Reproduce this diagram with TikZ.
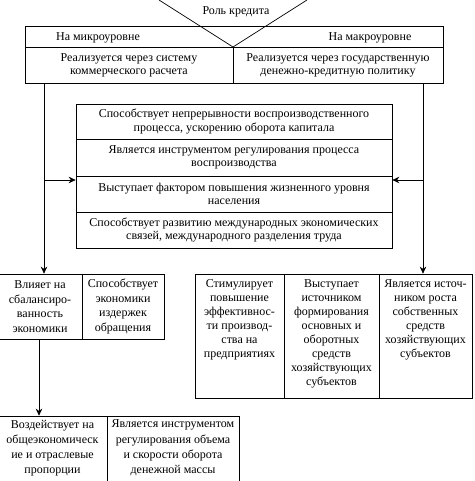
\documentclass[tikz,border=0pt]{standalone}
\usepackage{fontspec}
\setmainfont{Liberation Serif}
\usetikzlibrary{arrows.meta}
\begin{document}
\begin{tikzpicture}[x=1pt,y=-1pt,
  cell/.style={draw,line width=0.7pt,inner sep=0pt,align=center,
    font=\fontsize{12}{14}\selectfont},
  txt/.style={inner sep=0pt,align=center,font=\fontsize{12}{14}\selectfont},
  conn/.style={line width=0.7pt},
  arr/.style={line width=0.7pt,-{Stealth[length=7pt,width=6.5pt]}}]
\useasboundingbox (0,0) rectangle (474,481);
% top V and title
\coordinate (vl) at (159,0);
\coordinate (vr) at (307,0);
\node[txt] (title) at (236,12) {Роль кредита};
% top box
\node[cell,minimum width=418pt,minimum height=21pt] (toprow) at (234,36.5) {};
\node[txt] (micro) at (98,37.5) {На микроуровне};
\node[txt] (macro) at (370,37.5) {На макроуровне};
\coordinate (vb) at (233,47);
\draw[conn] (vl) -- (vb) -- (vr);
\node[cell,minimum width=208pt,minimum height=36pt,
  font=\fontsize{12}{13}\selectfont] (r2l) at (129,65)
  {Реализуется через систему\\коммерческого расчета};
\node[cell,minimum width=210pt,minimum height=36pt,
  font=\fontsize{12}{13}\selectfont] (r2r) at (338,65)
  {Реализуется через государственную\\денежно-кредитную политику};
% middle stack
\node[cell,minimum width=316pt,minimum height=35pt,
  font=\fontsize{12}{13.5}\selectfont] (m1) at (234,121.5)
  {Способствует непрерывности воспроизводственного\\процесса, ускорению оборота капитала};
\node[cell,minimum width=316pt,minimum height=37pt,
  font=\fontsize{12}{13.5}\selectfont] (m2) at (234,157.5)
  {Является инструментом регулирования процесса\\воспроизводства};
\node[cell,minimum width=316pt,minimum height=36pt,
  font=\fontsize{12}{13.5}\selectfont] (m3) at (234,194)
  {Выступает фактором повышения жизненного уровня\\населения};
\node[cell,minimum width=316pt,minimum height=36pt,
  font=\fontsize{12}{13.5}\selectfont] (m4) at (234,230)
  {Способствует развитию международных экономических\\связей, международного разделения труда};
% left box
\node[cell,minimum width=84pt,minimum height=65pt,
  font=\fontsize{12}{14.7}\selectfont] (a1) at (40,306.5)
  {Влияет на\\сбалансиро-\\ванность\\экономики};
\node[cell,minimum width=82pt,minimum height=65pt,
  font=\fontsize{12}{14.7}\selectfont] (a2) at (123,306.5)
  {Способствует\\экономики\\издержек\\обращения};
% bottom box
\node[cell,minimum width=109pt,minimum height=76pt] (b1) at (52.5,454) {};
\node[cell,minimum width=132pt,minimum height=76pt] (b2) at (173,454) {};
\node[txt,anchor=north,font=\fontsize{12}{15.3}\selectfont] (b1t) at ([yshift=-4pt]b1.north)
  {Воздействует на\\общеэкономическ\\ие и отраслевые\\пропорции};
\node[txt,anchor=north,font=\fontsize{12}{15.3}\selectfont] (b2t) at ([yshift=-4pt]b2.north)
  {Является инструментом\\регулирования объема\\и скорости оборота\\денежной массы};
% right box
\node[cell,minimum width=89pt,minimum height=124pt] (c1) at (239.5,336) {};
\node[cell,minimum width=95pt,minimum height=124pt] (c2) at (331.5,336) {};
\node[cell,minimum width=93pt,minimum height=124pt] (c3) at (425.5,336) {};
\node[txt,anchor=north] (c1t) at ([yshift=-6pt]c1.north)
  {Стимулирует\\повышение\\эффективнос-\\ти производ-\\ства на\\предприятиях};
\node[txt,anchor=north] (c2t) at ([yshift=-6pt]c2.north)
  {Выступает\\источником\\формирования\\основных и\\оборотных\\средств\\хозяйствующих\\субъектов};
\node[txt,anchor=north] (c3t) at ([yshift=-6pt]c3.north)
  {Является источ-\\ником роста\\собственных\\средств\\хозяйствующих\\субъектов};
% connectors
\coordinate (ls) at (44,83);
\coordinate (lm) at (44,180);
\coordinate (rs) at (423,83);
\coordinate (rm) at (423,180);
\draw[arr] (ls) -- (ls |- a1.north);
\draw[arr] (lm) -- (lm -| m3.west);
\draw[arr] (rs) -- (rs |- c3.north);
\draw[arr] (rm) -- (rm -| m3.east);
\coordinate (ab) at (39,339);
\draw[arr] (ab) -- (ab |- b1.north);
\end{tikzpicture}
\end{document}
